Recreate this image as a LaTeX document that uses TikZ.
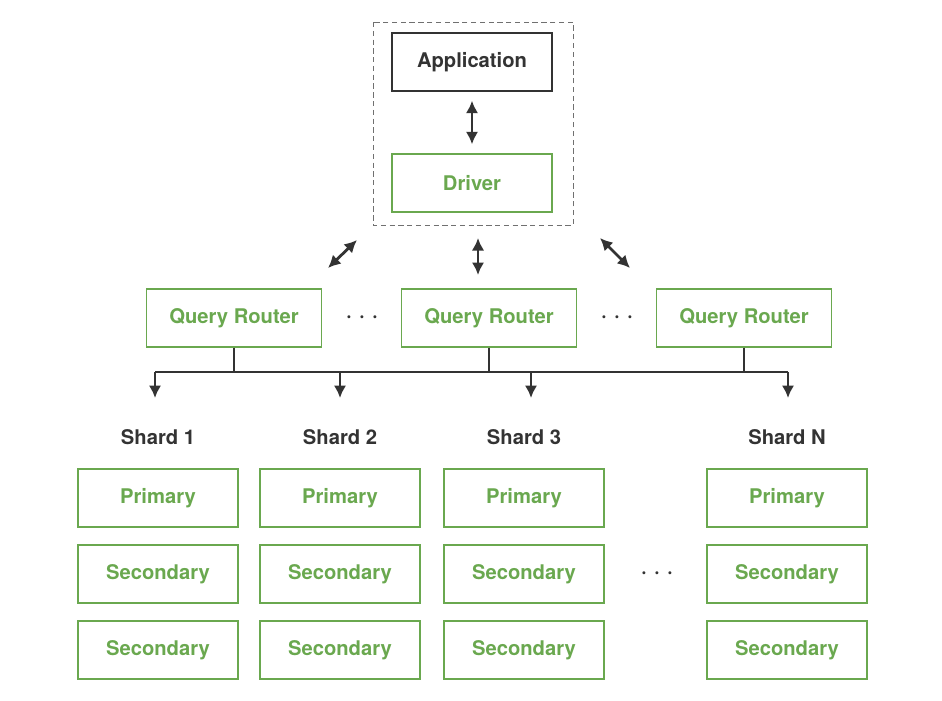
\documentclass[tikz,border=0pt]{standalone}
\usepackage{fontspec}
\setmainfont{TeX Gyre Heros}
\usetikzlibrary{arrows.meta,positioning}
\definecolor{leaf}{RGB}{106,168,79}
\definecolor{ink}{RGB}{51,51,51}
\newcommand{\tridots}{\scriptsize\textbullet\hspace{5pt}\textbullet\hspace{5pt}\textbullet}
\begin{document}
\begin{tikzpicture}[x=0.02cm,y=-0.02cm,
  box/.style={draw=leaf,thick,minimum width=3.2cm,minimum height=1.16cm,font=\fontsize{11.5}{13}\selectfont\bfseries,text=leaf,inner sep=0pt},
  router/.style={box,minimum width=3.5cm},
  label/.style={font=\fontsize{11.5}{13}\selectfont\bfseries,text=ink},
  dots/.style={text=ink},
  link/.style={draw=ink,line width=1.6pt,{Latex[length=2.5mm,width=2.5mm]}-{Latex[length=2.5mm,width=2.5mm]}},
  feed/.style={draw=ink,line width=1.6pt,-{Latex[length=2.5mm,width=2.5mm]}}]
\useasboundingbox (0,0) rectangle (942,700);

% client side
\draw[densely dashed,ink!70] (373,22) rectangle (573,225);
\node[box,draw=ink,text=ink] (app) at (472,62) {Application};
\node[box] (drv) at (472,183) {Driver};
\draw[link,shorten <=0.18cm,shorten >=0.18cm] (app) -- (drv);

% routers
\node[router] (qr1) at (234,318) {Query Router};
\node[router] (qr2) at (489,318) {Query Router};
\node[router] (qr3) at (744,318) {Query Router};
\node[dots] (d1) at (362,319) {\tridots};
\node[dots] (d2) at (617,319) {\tridots};
\coordinate (c1a) at (357,240); \coordinate (c1b) at (328,268);
\coordinate (c2a) at (478,238); \coordinate (c2b) at (478,275);
\coordinate (c3a) at (600,238); \coordinate (c3b) at (630,268);
\draw[link] (c1a) -- (c1b);
\draw[link] (c2a) -- (c2b);
\draw[link] (c3a) -- (c3b);

% bus
\coordinate (busl) at (155,372); \coordinate (busr) at (788,372);
\draw[ink,line width=1.6pt] (busl) -- (busr);
\foreach \q in {qr1,qr2,qr3} \draw[ink,line width=1.6pt] (\q.south) -- (\q.south |- busl);

% shards
\foreach \x/\n/\k in {158/1/a,340/2/b,524/3/c,787/N/d} {
  \node[label] (s\k) at (\x,437) {Shard \n};
  \node[box] (p\k) at (\x,498) {Primary};
  \node[box] (r\k) at (\x,574) {Secondary};
  \node[box] (t\k) at (\x,650) {Secondary};
}
\foreach \x in {155,340,531,788} {
  \coordinate (b\x) at (\x,372); \coordinate (e\x) at (\x,398);
  \draw[feed] (b\x) -- (e\x);
}
\node[dots] (d3) at (657,575) {\tridots};
\end{tikzpicture}
\end{document}
